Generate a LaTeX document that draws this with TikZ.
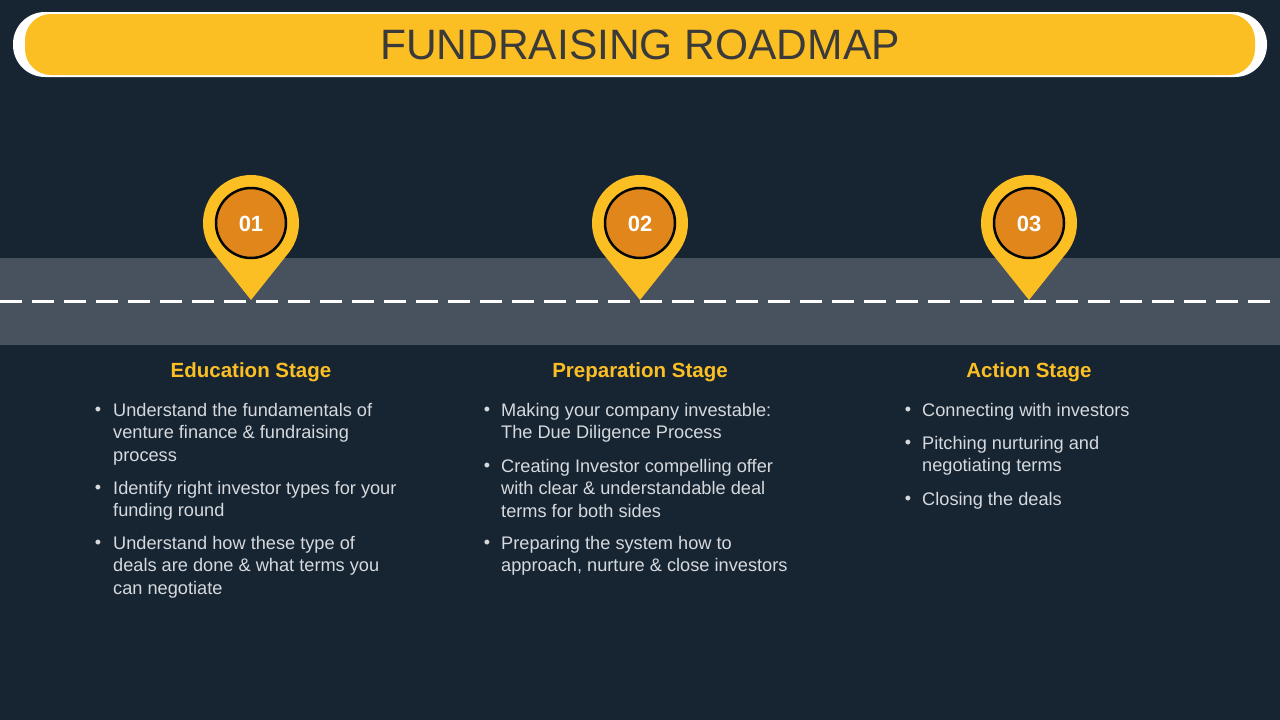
\documentclass[tikz,border=0pt]{standalone}
\usepackage{fontspec}
\setmainfont{Liberation Sans}
\definecolor{bg}{HTML}{172533}
\definecolor{road}{HTML}{47525E}
\definecolor{ylw}{HTML}{FBBF24}
\definecolor{org}{HTML}{E0861A}
\definecolor{txt}{HTML}{D6D9DD}
\definecolor{ttl}{HTML}{3A3A3A}
\begin{document}
\begin{tikzpicture}[x=1pt,y=-1pt,
  head/.style={text=ylw,font=\fontsize{20.5}{22}\selectfont\bfseries,anchor=center},
  bul/.style={text=txt,font=\fontsize{18.2}{22.5}\selectfont,anchor=north west,align=left,inner sep=0pt},
  dot/.style={text=txt,font=\fontsize{18}{22.5}\selectfont,anchor=north,inner sep=0pt},
  num/.style={text=white,font=\fontsize{22}{24}\selectfont\bfseries}]
\fill[bg] (0,0) rectangle (1280,720);
\useasboundingbox (0,0) rectangle (1280,720);
\fill[white,rounded corners=32] (13,12) rectangle (1267,77);
\fill[ylw,rounded corners=26] (25,14) rectangle (1255,75);
\node[text=ttl,font=\fontsize{42.5}{44}\selectfont] (title) at (640,45) {FUNDRAISING ROADMAP};
\fill[road] (0,258) rectangle (1280,345);
\draw[white,line width=3,dash pattern=on 22 off 10] (0,301) -- (1280,301);
\foreach \x/\n in {251/01,640/02,1029/03}{
  \fill[ylw] (\x,300) -- ([shift={(141.4:48)}]\x,223) arc[start angle=141.4,end angle=398.6,radius=48] -- cycle;
  \draw[fill=org,draw=black!85!bg,line width=2.5] (\x,223) circle (35);
  \node[num] (n\n) at (\x,224) {\n};
}
\node[head] (h1) at (251,372) {Education Stage};
\node[head] (h2) at (640,372) {Preparation Stage};
\node[head] (h3) at (1029,372) {Action Stage};
\foreach \y/\t in {403/{Understand the fundamentals of\\venture finance \& fundraising\\process},
 481/{Identify right investor types for your\\funding round},
 536/{Understand how these type of\\deals are done \& what terms you\\can negotiate}}{
 \node[dot] at (98,\y+4) {•};
 \node[bul] at (113,\y) {\t};}
\foreach \y/\t in {403/{Making your company investable:\\The Due Diligence Process},
 459/{Creating Investor compelling offer\\with clear \& understandable deal\\terms for both sides},
 536/{Preparing the system how to\\approach, nurture \& close investors}}{
 \node[dot] at (487,\y+4) {•};
 \node[bul] at (501,\y) {\t};}
\foreach \y/\t in {403/{Connecting with investors},
 436/{Pitching nurturing and\\negotiating terms},
 492/{Closing the deals}}{
 \node[dot] at (908,\y+4) {•};
 \node[bul] at (922,\y) {\t};}
\end{tikzpicture}
\end{document}
